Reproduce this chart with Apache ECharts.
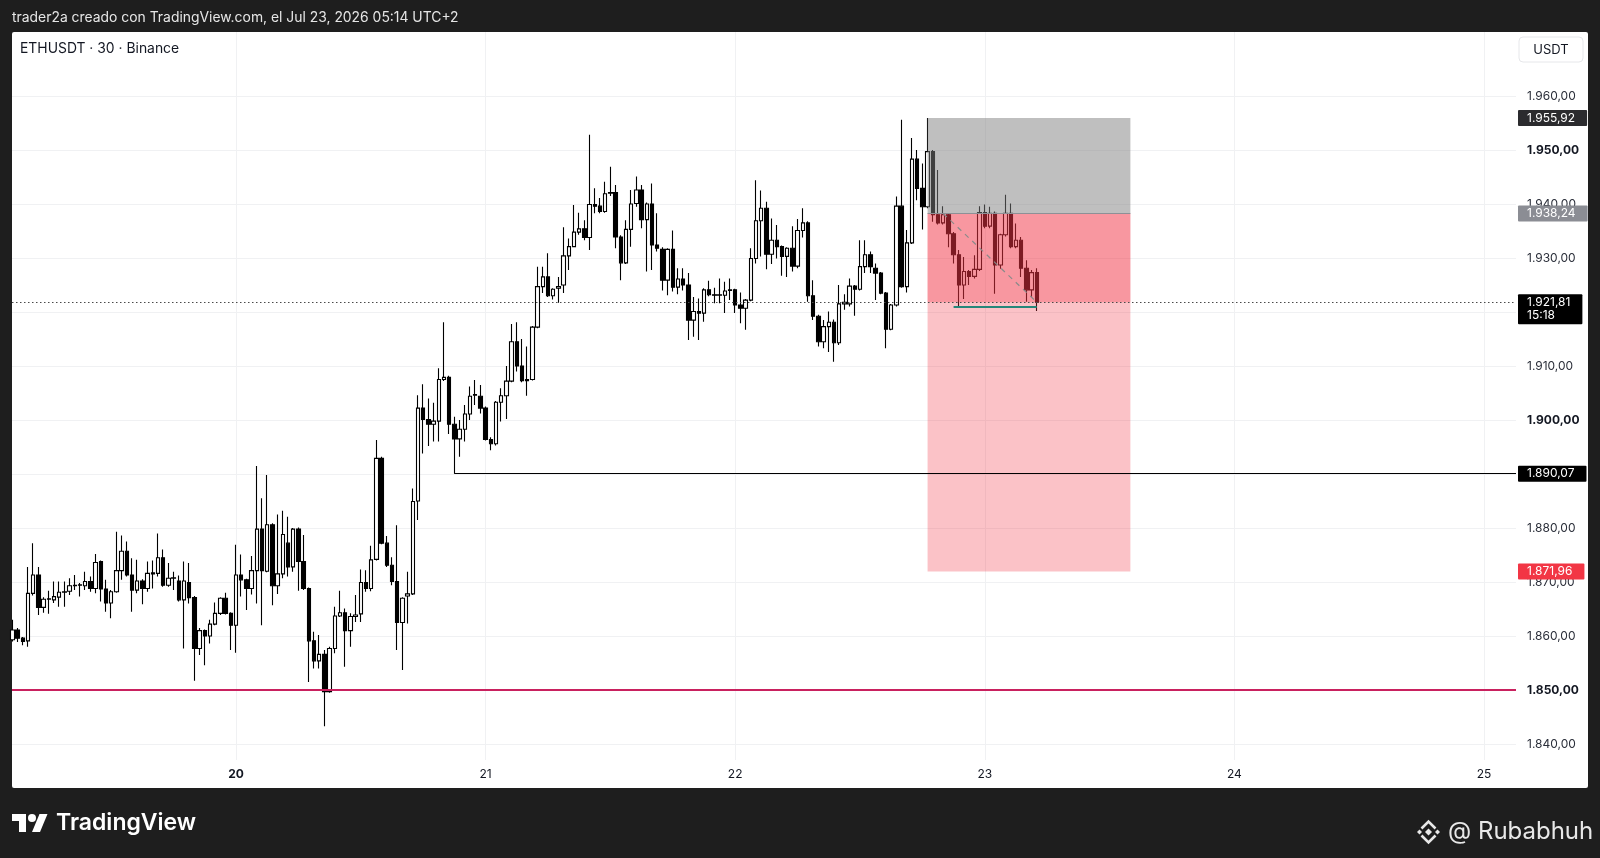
<!DOCTYPE html>
<html>
<head>
<meta charset="utf-8">
<script src="https://cdn.jsdelivr.net/npm/echarts@6/dist/echarts.min.js"></script>
<style>
html,body{margin:0;padding:0;background:#1e1e1e;}
#chart{width:1600px;height:858px;}
</style>
</head>
<body>
<div id="chart"></div>
<script>
// ---- data (hours counted from 19 Jul 00:00, 30-minute candles) ----
const firstHour = 2.5;
const stepHours = 0.5;

const opens = [1859.3,1861.1,1859.6,1859.1,1867.9,1871.3,1865.3,1866.8,1866.7,1867.2,
1868.1,1868.3,1869.3,1869.4,1869.3,1870.1,1868.8,1873.8,1868.7,1866.1,
1868.2,1872.1,1875.7,1871.3,1868.5,1870.2,1868.8,1871.5,1871.6,1874.5,
1869.4,1870.7,1870.2,1866.7,1869.9,1867.1,1857.7,1861.0,1860.0,1862.2,
1864.2,1867.0,1864.2,1862.0,1871.3,1870.4,1868.8,1872.1,1879.8,1872.0,
1880.6,1869.3,1871.5,1877.2,1872.8,1879.8,1873.8,1868.8,1859.1,1855.4,
1856.6,1849.7,1857.7,1863.7,1864.3,1861.0,1863.6,1864.1,1869.9,1868.8,
1874.2,1892.9,1877.2,1873.1,1870.1,1862.5,1867.4,1867.8,1885.0,1902.2,
1900.1,1899.2,1899.8,1907.5,1907.9,1899.2,1896.5,1898.3,1901.1,1904.6,
1904.4,1902.2,1896.4,1895.6,1903.3,1904.5,1907.2,1914.5,1910.0,1907.3,
1907.5,1917.2,1924.7,1926.5,1923.0,1924.4,1925.0,1930.4,1932.1,1934.8,
1935.4,1933.8,1939.9,1939.6,1938.6,1942.0,1942.1,1933.9,1929.1,1935.3,
1940.1,1942.6,1937.1,1940.0,1932.4,1931.6,1925.9,1931.6,1924.6,1926.1,
1925.0,1918.5,1920.1,1919.8,1924.1,1923.2,1923.1,1923.1,1924.0,1924.1,
1921.3,1920.7,1922.2,1929.9,1936.9,1939.2,1930.7,1933.3,1932.1,1930.3,
1931.8,1928.5,1935.1,1936.5,1923.0,1919.2,1914.5,1917.3,1918.1,1914.3,
1921.5,1921.5,1924.8,1924.2,1928.4,1930.6,1928.1,1927.2,1923.5,1916.8,
1921.3,1939.6,1924.7,1932.8,1948.3,1942.9,1939.5,1949.7,1938.0,1936.5,
1938.0,1934.5,1930.6,1925.0,1927.5,1926.6,1927.9,1938.4,1935.9,1938.3,
1928.7,1934.3,1938.3,1932.1,1933.3,1928.1,1924.1,1927.3];

const highs = [1863.0,1861.5,1859.8,1872.8,1877.2,1872.8,1867.2,1868.4,1870.1,1870.1,
1870.1,1870.7,1871.3,1869.8,1871.9,1871.0,1875.2,1874.0,1870.4,1868.5,
1879.3,1878.6,1877.5,1874.4,1874.1,1870.5,1873.8,1874.0,1879.0,1876.0,
1873.5,1871.9,1871.2,1873.8,1873.5,1867.4,1861.5,1861.2,1863.0,1866.2,
1867.2,1868.0,1864.4,1876.9,1875.1,1870.6,1874.8,1891.5,1885.5,1889.8,
1880.9,1882.5,1883.2,1882.1,1880.0,1880.1,1878.7,1869.0,1860.8,1860.2,
1857.4,1858.0,1865.4,1868.4,1865.1,1864.2,1867.6,1872.3,1872.2,1876.7,
1896.3,1893.2,1878.5,1874.6,1880.5,1867.2,1871.9,1887.3,1904.6,1906.6,
1904.0,1903.2,1909.6,1918.1,1908.2,1900.6,1900.0,1902.8,1906.2,1907.4,
1906.5,1902.5,1896.8,1903.5,1905.9,1910.0,1917.8,1918.1,1915.0,1913.6,
1917.4,1928.4,1928.4,1930.9,1924.4,1926.5,1935.7,1933.6,1939.8,1938.4,
1937.0,1952.8,1942.9,1941.1,1944.1,1946.9,1943.5,1934.2,1937.0,1942.6,
1945.1,1943.5,1940.3,1943.8,1938.3,1932.0,1931.8,1935.1,1928.1,1928.1,
1927.2,1922.8,1922.5,1924.4,1925.8,1924.5,1926.2,1925.6,1926.2,1924.3,
1923.6,1922.4,1931.8,1944.4,1942.5,1940.4,1937.3,1936.1,1932.3,1932.0,
1935.9,1937.2,1939.2,1936.8,1925.9,1919.5,1918.5,1920.1,1918.6,1925.0,
1923.3,1926.2,1925.0,1933.3,1933.3,1931.2,1929.0,1927.4,1923.7,1921.5,
1941.4,1955.6,1935.2,1952.2,1950.0,1947.5,1955.92,1950.0,1946.3,1939.6,
1938.3,1934.8,1931.5,1930.2,1927.8,1930.5,1939.6,1939.9,1939.5,1938.6,
1934.5,1941.7,1940.1,1936.4,1933.9,1929.6,1927.8,1928.1];

const lows = [1859.0,1858.9,1858.3,1858.0,1867.5,1863.9,1864.3,1864.1,1866.1,1865.4,
1865.4,1867.6,1868.5,1867.3,1868.5,1868.2,1867.9,1866.4,1864.5,1863.3,
1868.0,1870.4,1871.0,1864.5,1867.9,1865.9,1868.2,1868.8,1871.0,1869.1,
1869.1,1868.5,1866.4,1857.7,1866.0,1851.7,1856.5,1854.6,1858.6,1862.0,
1863.9,1864.0,1857.4,1856.9,1867.3,1864.8,1867.7,1866.0,1862.0,1871.8,
1865.7,1867.8,1870.7,1871.0,1871.9,1868.4,1868.5,1851.5,1854.0,1854.0,
1843.3,1849.5,1856.8,1863.5,1854.3,1858.0,1862.6,1862.6,1868.2,1868.3,
1874.0,1877.0,1872.8,1869.4,1857.4,1853.7,1862.3,1867.6,1881.5,1893.8,
1895.2,1896.0,1896.0,1907.2,1897.4,1890.07,1893.2,1896.0,1900.0,1902.8,
1901.2,1896.2,1894.4,1895.3,1899.7,1900.2,1907.0,1909.0,1907.0,1904.5,
1907.3,1917.0,1923.5,1922.8,1922.3,1921.7,1923.5,1927.8,1932.0,1934.3,
1933.3,1931.5,1938.3,1938.3,1938.4,1941.5,1931.8,1925.9,1928.9,1932.1,
1939.5,1935.5,1927.5,1927.8,1931.2,1924.0,1923.1,1923.8,1923.3,1924.0,
1914.8,1915.4,1914.8,1918.2,1922.9,1921.6,1921.6,1919.8,1922.2,1919.8,
1917.9,1916.7,1922.0,1929.0,1930.3,1927.9,1928.9,1929.9,1926.7,1926.5,
1927.5,1928.1,1933.8,1921.9,1918.5,1913.6,1913.3,1912.6,1910.8,1913.9,
1920.4,1921.0,1919.3,1924.0,1927.2,1927.2,1922.2,1923.3,1913.3,1916.6,
1921.0,1924.5,1923.6,1932.6,1940.7,1935.3,1939.2,1936.7,1936.2,1936.2,
1932.0,1929.0,1921.0,1922.4,1925.0,1926.2,1927.6,1935.5,1935.5,1923.4,
1928.0,1934.0,1931.8,1931.8,1926.5,1921.9,1922.8,1920.2];

const closes = [1861.1,1859.6,1859.0,1867.9,1871.3,1865.3,1866.8,1866.9,1867.3,1868.1,
1868.2,1869.3,1869.4,1869.5,1870.1,1868.8,1873.6,1868.7,1866.1,1868.2,
1872.1,1875.7,1871.3,1868.5,1870.2,1868.8,1871.6,1871.7,1874.5,1869.4,
1870.7,1870.8,1866.7,1870.2,1867.1,1857.7,1861.0,1860.0,1862.2,1864.2,
1867.0,1864.2,1862.0,1871.3,1870.4,1868.8,1872.1,1879.8,1872.1,1880.6,
1869.3,1871.5,1878.8,1872.8,1879.8,1873.8,1868.8,1859.1,1855.4,1856.6,
1849.7,1857.7,1863.7,1864.3,1861.0,1863.6,1863.9,1869.9,1868.8,1874.1,
1892.9,1877.2,1873.1,1870.1,1862.5,1867.0,1867.8,1884.9,1902.2,1900.1,
1899.2,1899.8,1907.5,1907.9,1899.2,1896.5,1898.3,1901.1,1904.4,1904.7,
1902.2,1896.4,1895.6,1903.3,1904.5,1907.2,1914.5,1910.0,1907.3,1907.5,
1917.2,1924.7,1926.5,1923.0,1924.2,1924.7,1930.4,1932.1,1934.8,1935.4,
1933.8,1939.9,1939.6,1938.6,1941.9,1942.1,1933.9,1929.1,1935.3,1940.0,
1942.6,1937.1,1940.0,1932.4,1931.8,1925.9,1931.6,1924.6,1926.1,1925.0,
1918.5,1920.1,1919.8,1924.1,1923.2,1923.1,1923.2,1923.9,1924.1,1921.3,
1920.7,1922.2,1929.9,1936.9,1939.2,1930.7,1933.3,1932.1,1930.3,1931.8,
1928.5,1935.1,1936.5,1923.0,1919.2,1914.5,1917.3,1918.1,1914.3,1921.5,
1921.8,1924.8,1924.2,1928.4,1930.6,1928.4,1927.2,1923.5,1916.8,1921.3,
1939.6,1924.7,1932.8,1948.3,1942.9,1939.5,1949.7,1938.0,1936.5,1938.0,
1934.5,1930.6,1925.0,1927.5,1926.6,1927.9,1938.4,1935.9,1938.3,1928.7,
1934.3,1938.3,1932.1,1933.3,1928.1,1924.1,1927.3,1921.81];

const dayTicks = [24, 48, 72, 96, 120, 144];
const dayLabels = ['20', '21', '22', '23', '24', '25'];
const priceTicks = [1840, 1850, 1860, 1870, 1880, 1890, 1900, 1910, 1920, 1930, 1940, 1950, 1960];

const supportLevel = 1850;
const rayStart = [45, 1890.07];
const lastPrice = 1921.81;
const countdown = '15:18';
const positionTimes = [90.5, 110.0];
const positionPrices = [1955.92, 1938.24, 1871.96]; // stop, entry, target
const tradePath = [[92.0, 1938.24], [101.0, 1921.81]];
const tealLevel = [[93.0, 1921.0], [101.0, 1921.0]];

// axis extents
const X_MIN = 2.46, X_MAX = 147.08;
const Y_MIN = 1837.04, Y_MAX = 1971.85;

// ---- helpers ----
function fmtPrice(v) {
  const s = Number(v).toFixed(2);
  const parts = s.split('.');
  return parts[0].replace(/\B(?=(\d{3})+(?!\d))/g, '.') + ',' + parts[1];
}
const FONT = 'Inter, Roboto, "Noto Sans", sans-serif';

const candles = opens.map((o, i) => [firstHour + i * stepHours, o, closes[i], lows[i], highs[i]]);

const positionBoxes = [
  [positionTimes[0], positionTimes[1], positionPrices[1], positionPrices[0]],
  [positionTimes[0], positionTimes[1], positionPrices[2], positionPrices[1]],
  [positionTimes[0], positionTimes[1], lastPrice, positionPrices[1]]
];
const boxFills = ['rgba(128,128,128,0.5)', 'rgba(242,54,69,0.3)', 'rgba(242,54,69,0.3)'];

function tag(bg, text, extra) {
  return Object.assign({
    show: true, position: 'end', distance: 2, formatter: text,
    color: '#ffffff', backgroundColor: bg, padding: [2, 12, 1, 9],
    fontFamily: FONT, fontSize: 12, lineHeight: 13, borderRadius: 1
  }, extra || {});
}
const noLine = { color: 'rgba(0,0,0,0)', width: 1, type: 'solid' };

const chart = echarts.init(document.getElementById('chart'), null, { renderer: 'canvas' });

const option = {
  backgroundColor: '#1e1e1e',
  animation: false,
  textStyle: { fontFamily: FONT },
  grid: { left: 12, right: 84, top: 32, bottom: 98 },
  xAxis: {
    type: 'value', min: X_MIN, max: X_MAX,
    axisLine: { show: false },
    axisTick: { show: false, customValues: dayTicks },
    splitLine: { show: true, lineStyle: { color: '#f0f1f3', width: 1 } },
    axisLabel: {
      customValues: dayTicks, margin: 8,
      color: '#131722', fontSize: 12, fontFamily: FONT,
      formatter: function (v) {
        const i = dayTicks.indexOf(v);
        const t = i >= 0 ? dayLabels[i] : '';
        return i === 0 ? '{b|' + t + '}' : '{n|' + t + '}';
      },
      rich: {
        b: { fontWeight: 'bold', fontSize: 12, color: '#131722', fontFamily: FONT },
        n: { fontSize: 12, color: '#131722', fontFamily: FONT }
      }
    }
  },
  yAxis: {
    type: 'value', position: 'right', min: Y_MIN, max: Y_MAX, scale: true,
    axisLine: { show: false },
    axisTick: { show: false, customValues: priceTicks },
    splitLine: { show: true, lineStyle: { color: '#f0f1f3', width: 1 } },
    axisLabel: {
      customValues: priceTicks, margin: 11, align: 'left',
      color: '#131722', fontSize: 12, fontFamily: FONT,
      formatter: function (v) {
        const t = fmtPrice(v);
        return (Math.round(v) % 50 === 0) ? '{b|' + t + '}' : '{n|' + t + '}';
      },
      rich: {
        b: { fontWeight: 'bold', fontSize: 12, color: '#131722', fontFamily: FONT },
        n: { fontSize: 12, color: '#2a2e39', fontFamily: FONT }
      }
    }
  },
  series: [
    {
      type: 'candlestick',
      name: 'ETHUSDT',
      data: candles,
      encode: { x: 0, y: [1, 2, 3, 4] },
      barWidth: 3.9,
      clip: true,
      z: 2,
      itemStyle: {
        color: '#ffffff', color0: '#000000',
        borderColor: '#000000', borderColor0: '#000000', borderWidth: 1.1
      },
      markLine: {
        silent: true,
        symbol: ['none', 'none'],
        animation: false,
        precision: 2,
        data: [
          { yAxis: supportLevel, lineStyle: { color: '#c9215f', width: 2, type: 'solid' }, label: { show: false } },
          [
            { coord: rayStart, lineStyle: { color: '#000000', width: 1.2, type: 'solid' },
              label: tag('#000000', fmtPrice(rayStart[1])) },
            { coord: [X_MAX, rayStart[1]] }
          ],
          [
            { coord: [positionTimes[0], positionPrices[1]], lineStyle: { color: '#8e9096', width: 1, type: 'solid' }, label: { show: false } },
            { coord: [positionTimes[1], positionPrices[1]] }
          ],
          [
            { coord: tradePath[0], lineStyle: { color: '#8a8a8a', width: 1.2, type: [5, 5] }, label: { show: false } },
            { coord: tradePath[1] }
          ],
          [
            { coord: tealLevel[0], lineStyle: { color: '#24877a', width: 2, type: 'solid' }, label: { show: false } },
            { coord: tealLevel[1] }
          ],
          { yAxis: positionPrices[0], lineStyle: noLine, label: tag('#2b2b2e', fmtPrice(positionPrices[0])) },
          { yAxis: positionPrices[1], lineStyle: noLine, label: tag('#8b8d94', fmtPrice(positionPrices[1])) },
          { yAxis: positionPrices[2], lineStyle: noLine, label: tag('#f23645', fmtPrice(positionPrices[2])) },
          { yAxis: lastPrice, lineStyle: { color: '#4a4a4a', width: 1, type: [1.5, 2.5] },
            label: tag('#000000', fmtPrice(lastPrice) + '\n' + countdown, { offset: [0, 7], padding: [2, 12, 2, 9] }) }
        ]
      }
    },
    {
      type: 'custom',
      name: 'position',
      silent: true,
      z: 3,
      clip: true,
      data: positionBoxes,
      encode: { x: [0, 1], y: [2, 3] },
      renderItem: function (params, api) {
        const p0 = api.coord([api.value(0), api.value(3)]);
        const p1 = api.coord([api.value(1), api.value(2)]);
        return {
          type: 'rect',
          shape: { x: p0[0], y: p0[1], width: p1[0] - p0[0], height: p1[1] - p0[1] },
          style: { fill: boxFills[params.dataIndex] }
        };
      }
    }
  ],
  graphic: [
    { type: 'rect', z: -10, silent: true, shape: { x: 12, y: 32, width: 1576, height: 756, r: 2 }, style: { fill: '#ffffff' } },
    { type: 'text', x: 12, y: 18, silent: true,
      style: { text: 'trader2a creado con TradingView.com, el Jul 23, 2026 05:14 UTC+2', fill: '#e6e6e6', font: '13.9px ' + FONT, verticalAlign: 'middle' } },
    { type: 'text', x: 20, y: 49, silent: true, z: 10,
      style: { text: 'ETHUSDT · 30 · Binance', fill: '#131722', font: '13.9px ' + FONT, verticalAlign: 'middle' } },
    { type: 'rect', x: 1519, y: 37, silent: true, z: 10, shape: { x: 0, y: 0, width: 64, height: 25, r: 4 },
      style: { fill: '#ffffff', stroke: '#e6e7ea', lineWidth: 1 } },
    { type: 'text', x: 1551, y: 50, silent: true, z: 11,
      style: { text: 'USDT', fill: '#131722', font: '13px ' + FONT, align: 'center', verticalAlign: 'middle' } },
    // TradingView logo
    { type: 'group', x: 12, y: 810, silent: true, children: [
      { type: 'polygon', shape: { points: [[14, 22], [7, 22], [7, 11], [0, 11], [0, 4], [14, 4]] }, style: { fill: '#ffffff' } },
      { type: 'circle', shape: { cx: 20, cy: 8, r: 4 }, style: { fill: '#ffffff' } },
      { type: 'polygon', shape: { points: [[28, 22], [20, 22], [27.5, 4], [35.5, 4]] }, style: { fill: '#ffffff' } }
    ] },
    { type: 'text', x: 56, y: 823, silent: true,
      style: { text: 'TradingView', fill: '#ffffff', font: '600 23px ' + FONT, verticalAlign: 'middle' } },
    // Binance-like mark
    { type: 'group', x: 1428.5, y: 832, silent: true, children: [
      { type: 'polygon', shape: { points: [[0, -3.5], [3.5, 0], [0, 3.5], [-3.5, 0]] }, style: { fill: '#e8e8e8' } },
      { type: 'polygon', shape: { points: [[-9, -2.5], [-6.5, 0], [-9, 2.5], [-11.5, 0]] }, style: { fill: '#e8e8e8' } },
      { type: 'polygon', shape: { points: [[9, -2.5], [11.5, 0], [9, 2.5], [6.5, 0]] }, style: { fill: '#e8e8e8' } },
      { type: 'polyline', shape: { points: [[-7, -3.5], [0, -10.5], [7, -3.5]] }, style: { stroke: '#e8e8e8', lineWidth: 2.6, fill: null } },
      { type: 'polyline', shape: { points: [[-7, 3.5], [0, 10.5], [7, 3.5]] }, style: { stroke: '#e8e8e8', lineWidth: 2.6, fill: null } }
    ] },
    { type: 'text', x: 1448, y: 832, silent: true,
      style: { text: '@ Rubabhuh', fill: '#e8e8e8', font: '24px ' + FONT, verticalAlign: 'middle' } }
  ]
};

chart.setOption(option);
</script>
</body>
</html>
